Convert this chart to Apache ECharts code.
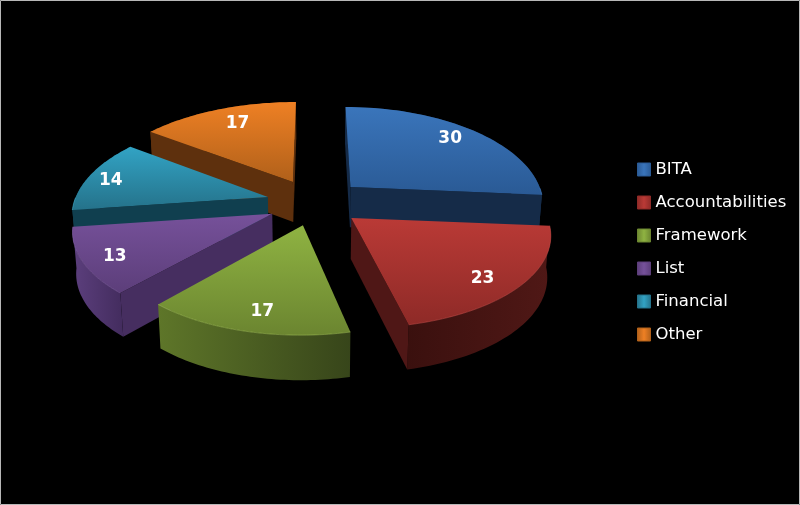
<!DOCTYPE html>
<html>
<head>
<meta charset="utf-8">
<script src="https://cdn.jsdelivr.net/npm/echarts@6/dist/echarts.min.js"></script>
<style>
html,body{margin:0;padding:0;background:#000;}
#chart{width:800px;height:505px;}
</style>
</head>
<body>
<div id="chart"></div>
<script>
// Data
var categories = ['BITA', 'Accountabilities', 'Framework', 'List', 'Financial', 'Other'];
var values = [30, 23, 17, 13, 14, 17];

// Palette
var topLight  = ['#3a75bb', '#ba3a36', '#8fb342', '#76519a', '#32a3c4', '#ee8024'];
var topDark   = ['#2a5a95', '#8e2a27', '#6b8530', '#5c3e7a', '#25728a', '#b0601a'];
var wallColor = ['#152b48', '#4f1716', '#3f4f1c', '#462e60', '#103f4f', '#5e300d'];
var rimLeft   = ['#1a3557', '#3a100e', '#5e7629', '#5c3f7d', '#154c5f', '#6b380f'];
var rimRight  = ['#1a3557', '#501816', '#37451a', '#432c5e', '#103f4f', '#5e300d'];
var edgeLight = ['#4a85cc', '#c9504b', '#a5c65a', '#8a68ad', '#4ab5d4', '#f39545'];

// Projection of the pie (a tilted disc seen in perspective)
var CX = 314.8, CY = 202.7;  // disc centre on screen
var EX = 48.4, EY = 23.2;    // explosion offset of a slice tip
var RX = 196, RY = 92.6;     // horizontal and vertical radius
var PERSP = 0.158;           // perspective strength
var SHRINK = 0.985;          // convergence of the extrusion
var LABEL_R = 0.8;
var widthTune = [0.965, 1, 0.98, 1, 0.98, 1];  // per-slice lens correction
var labelNudge = [[0, -2], [-1, 8], [4, 5], [-8, 5], [-14, 1], [6, 1]];

var total = values.reduce(function (a, b) { return a + b; }, 0);

function sliceAngles(i) {
  var sum = 0;
  for (var k = 0; k < i; k++) sum += values[k];
  return [sum / total * 2 * Math.PI, (sum + values[i]) / total * 2 * Math.PI];
}
function project(apex, r, t, tune) {
  var X = r * Math.sin(t), Y = -r * Math.cos(t);
  var s = 1 / (1 - PERSP * Y);
  return [apex[0] + (apex[0] - CX) * (s - 1) + RX * tune * X * s, apex[1] + RY * Y * s];
}
function drop(p) {
  return [CX + (p[0] - CX) * SHRINK, p[1] + 40 + (p[1] - 182) * 0.033];
}
function frontFacing(a, b, ref) {
  // edge a-b is a visible wall when the slice's top face lies above it on screen
  var t = (ref[0] - a[0]) / ((b[0] - a[0]) || 1e-6);
  var yOnEdge = a[1] + (b[1] - a[1]) * t;
  return ref[1] < yOnEdge;
}

function renderSlice(params, api) {
  var i = params.seriesIndex;
  var ang = sliceAngles(i);
  var mid = (ang[0] + ang[1]) / 2;
  var apex = [CX + EX * Math.sin(mid), CY - EY * Math.cos(mid)];
  var arc = [], frontArc = [];
  var N = 48;
  for (var n = 0; n <= N; n++) {
    var t = ang[0] + (ang[1] - ang[0]) * n / N;
    var p = project(apex, 1, t, widthTune[i]);
    arc.push(p);
    if (Math.cos(t) < 0) frontArc.push(p);
  }
  var children = [];
  function grad(x1, y1, x2, y2, c1, c2) {
    return new echarts.graphic.LinearGradient(x1, y1, x2, y2, [
      { offset: 0, color: c1 }, { offset: 1, color: c2 }
    ]);
  }
  // outer rim
  var lower = arc.map(drop).reverse();
  children.push({
    type: 'polygon', z2: 1,
    shape: { points: arc.concat(lower) },
    style: { fill: grad(0, 0, 1, 0, rimLeft[i], rimRight[i]) }
  });
  // radial walls
  var midPoint = arc[Math.floor(N / 2)];
  [arc[0], arc[N]].forEach(function (end) {
    if (frontFacing(apex, end, midPoint)) {
      children.push({
        type: 'polygon', z2: 2,
        shape: { points: [apex, end, drop(end), drop(apex)] },
        style: { fill: wallColor[i] }
      });
    }
  });
  // top face
  children.push({
    type: 'polygon', z2: 3,
    shape: { points: [apex].concat(arc) },
    style: { fill: grad(0, 0, 0, 1, topLight[i], topDark[i]) }
  });
  // light bevel along the front of the rim
  if (frontArc.length > 1) {
    children.push({
      type: 'polyline', z2: 4,
      shape: { points: frontArc },
      style: { fill: null, stroke: edgeLight[i], lineWidth: 1, opacity: 0.5 }
    });
  }
  // value label
  var lp = project(apex, LABEL_R, mid, widthTune[i]);
  children.push({
    type: 'text', z2: 5,
    style: {
      x: lp[0] + labelNudge[i][0], y: lp[1] + labelNudge[i][1],
      text: String(api.value(0)),
      fill: '#fff',
      font: 'bold 17px "DejaVu Sans"',
      align: 'center', verticalAlign: 'middle'
    }
  });
  return { type: 'group', children: children };
}

// paint back slices first
var depthOrder = categories.map(function (c, i) {
  var a = sliceAngles(i);
  return { i: i, key: -Math.cos((a[0] + a[1]) / 2) };
}).sort(function (p, q) { return p.key - q.key; });
var zOf = {};
depthOrder.forEach(function (d, rank) { zOf[d.i] = rank + 2; });

var chart = echarts.init(document.getElementById('chart'), null, { renderer: 'canvas' });
chart.setOption({
  backgroundColor: '#000',
  animation: false,
  graphic: [{
    type: 'rect', silent: true, z: 20,
    shape: { x: 0.5, y: 0.5, width: 799, height: 504 },
    style: { fill: null, stroke: '#b8b8b8', lineWidth: 1 }
  }],
  legend: {
    orient: 'vertical',
    left: 632,
    top: 156,
    itemWidth: 13,
    itemHeight: 13,
    itemGap: 16,
    selectedMode: false,
    textStyle: { color: '#fff', fontSize: 16.5, fontFamily: '"DejaVu Sans"' },
    data: categories.map(function (c, i) {
      return {
        name: c, icon: 'rect',
        itemStyle: {
          borderColor: topDark[i], borderWidth: 1,
          color: new echarts.graphic.LinearGradient(0, 0, 1, 0, [
            { offset: 0, color: topDark[i] },
            { offset: 0.5, color: topLight[i] },
            { offset: 1, color: topDark[i] }
          ])
        }
      };
    })
  },
  series: categories.map(function (c, i) {
    return {
      type: 'custom',
      name: c,
      coordinateSystem: 'none',
      z: zOf[i],
      silent: true,
      itemStyle: { color: topLight[i] },
      renderItem: renderSlice,
      data: [values[i]]
    };
  })
});
</script>
</body>
</html>
